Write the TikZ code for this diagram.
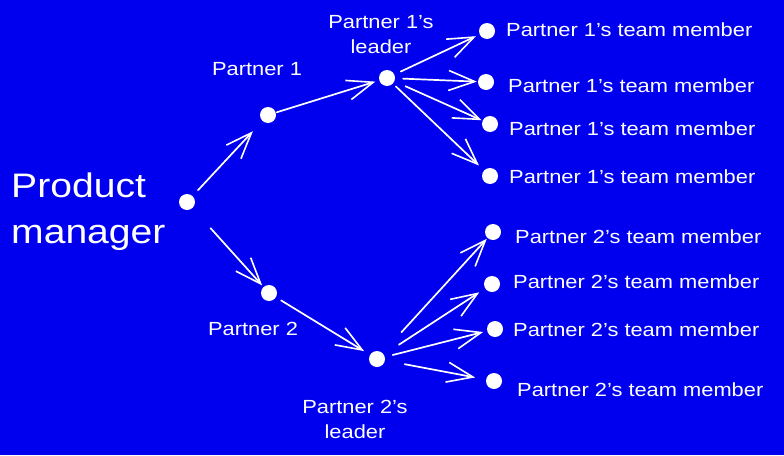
\documentclass[tikz,border=0pt]{standalone}
\usepackage{fontspec}
\setmainfont{Liberation Sans}[FakeStretch=1.15]
\usetikzlibrary{arrows.meta}
\definecolor{bg}{RGB}{0,0,238}
\begin{document}
\begin{tikzpicture}[x=1pt,y=-1pt,
  dot/.style={circle,fill=white,draw=none,minimum size=16pt,inner sep=0pt},
  lbl/.style={text=white,font=\fontsize{19}{25}\selectfont,inner sep=0pt},
  big/.style={text=white,font=\fontsize{34}{46}\selectfont,inner sep=0pt,align=left},
  conn/.style={draw=white,line width=1.7pt,line cap=round,line join=round,
    -{Straight Barb[length=26pt,width=20pt,line width=1.6pt]}}
]
\fill[bg] (0,0) rectangle (784,455);
\useasboundingbox (0,0) rectangle (784,455);

% dots
\node[dot] (pm) at (187,202) {};
\node[dot] (p1) at (268,115) {};
\node[dot] (l1) at (387,78) {};
\node[dot] (t1) at (487,31) {};
\node[dot] (t2) at (486,82) {};
\node[dot] (t3) at (490,124) {};
\node[dot] (t4) at (490,176) {};
\node[dot] (p2) at (269,293) {};
\node[dot] (l2) at (377,359) {};
\node[dot] (u1) at (493,232) {};
\node[dot] (u2) at (492,284) {};
\node[dot] (u3) at (495,329) {};
\node[dot] (u4) at (494,381) {};

% labels (base anchor = baseline of the last line)
\node[big,anchor=base west] (pmt) at (11,243) {Product\\manager};
\node[lbl,anchor=base] (p1t) at (257,75) {Partner 1};
\node[lbl,anchor=base,align=center] (l1t) at (381,53) {Partner 1's\\leader};
\node[lbl,anchor=base] (p2t) at (253,335) {Partner 2};
\node[lbl,anchor=base,align=center] (l2t) at (355,438) {Partner 2's\\leader};

\node[lbl,anchor=base west] (t1t) at (506,36) {Partner 1's team member};
\node[lbl,anchor=base west] (t2t) at (508,92) {Partner 1's team member};
\node[lbl,anchor=base west] (t3t) at (509,135) {Partner 1's team member};
\node[lbl,anchor=base west] (t4t) at (509,183) {Partner 1's team member};
\node[lbl,anchor=base west] (u1t) at (515,243) {Partner 2's team member};
\node[lbl,anchor=base west] (u2t) at (513,288) {Partner 2's team member};
\node[lbl,anchor=base west] (u3t) at (513,336) {Partner 2's team member};
\node[lbl,anchor=base west] (u4t) at (517,396) {Partner 2's team member};

% connectors
\draw[conn,shorten <=8pt,shorten >=14pt] (pm) -- (p1);
\draw[conn,shorten <=1pt,shorten >=4pt] (p1) -- (l1);
\draw[conn,shorten <=7pt,shorten >=4pt] (l1) -- (t1);
\draw[conn,shorten <=8pt,shorten >=1pt] (l1) -- (t2);
\draw[conn,shorten <=12pt,shorten >=1pt] (l1) -- (t3);
\draw[conn,shorten <=4pt,shorten >=7pt] (l1) -- (t4);
\draw[conn,shorten <=27pt,shorten >=2pt] (pm) -- (p2);
\draw[conn,shorten <=6pt,shorten >=7pt] (p2) -- (l2);
\draw[conn,shorten <=28pt,shorten >=1pt] (l2) -- (u1);
\draw[conn,shorten <=18pt,shorten >=7pt] (l2) -- (u2);
\draw[conn,shorten <=8pt,shorten >=4pt] (l2) -- (u3);
\draw[conn,shorten <=20pt,shorten >=11pt] (l2) -- (u4);
\end{tikzpicture}
\end{document}
